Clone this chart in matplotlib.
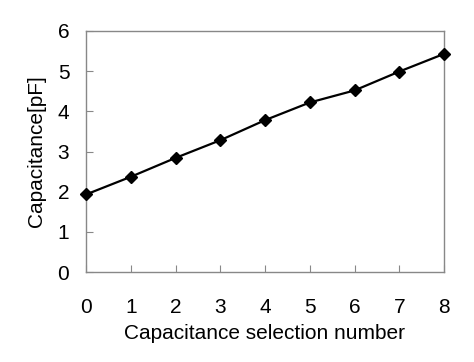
import matplotlib
matplotlib.use("Agg")
import matplotlib.pyplot as plt

plt.rcParams['font.family'] = ['Liberation Sans', 'DejaVu Sans']

# capacitance selection number vs capacitance
sel_num = [0, 1, 2, 3, 4, 5, 6, 7, 8]
cap_pf = [1.93, 2.37, 2.84, 3.28, 3.78, 4.22, 4.52, 4.99, 5.43]

fig = plt.figure(figsize=(4.74, 3.62), dpi=100)
ax = fig.add_axes([86 / 474, 1 - 272 / 362, (444 - 86) / 474, (272 - 31) / 362])

ax.plot(sel_num, cap_pf, color='black', lw=1.6, marker='D', ms=6.5,
        clip_on=False, zorder=3)

ax.set_xlim(0, 8)
ax.set_ylim(0, 6)
ax.set_xticks(range(0, 9))
ax.set_yticks(range(0, 7))

for s in ax.spines.values():
    s.set_color('#888888')
    s.set_linewidth(1.0)

ax.tick_params(axis='both', direction='in', colors='#888888', length=5,
               labelcolor='black', labelsize=15)
ax.tick_params(axis='x', pad=19)
ax.tick_params(axis='y', pad=12)

ax.set_xlabel('Capacitance selection number', fontsize=15, labelpad=5)
ax.set_ylabel('Capacitance[pF]', fontsize=15, labelpad=8)

fig.savefig('out.png', dpi=100)
